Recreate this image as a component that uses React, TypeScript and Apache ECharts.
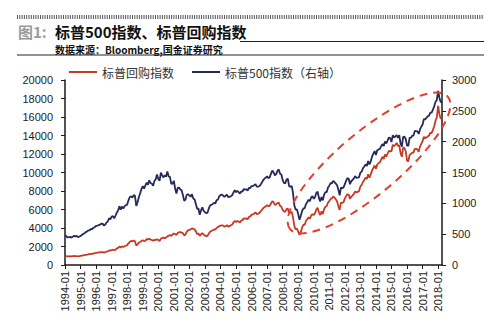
import React, { useEffect, useRef } from "react";
import * as echarts from "echarts";

const startYear = 1994;
const endYear = 2018;
const endMonth = 4;

// 标普500指数 (right axis), monthly from 1994-01
const sp500 = [
  482, 467, 446, 451, 457, 444, 458, 475, 463, 472, 454, 459,
  470, 487, 501, 515, 533, 544, 562, 562, 584, 582, 605, 616,
  636, 640, 646, 654, 669, 671, 640, 652, 687, 705, 757, 741,
  786, 791, 757, 801, 848, 885, 954, 899, 947, 915, 955, 970,
  980, 1049, 1102, 1112, 1091, 1134, 1121, 957, 1017, 1099, 1164, 1229,
  1280, 1238, 1286, 1335, 1302, 1373, 1329, 1320, 1283, 1363, 1389, 1469,
  1394, 1366, 1499, 1452, 1421, 1455, 1431, 1518, 1437, 1429, 1315, 1320,
  1366, 1240, 1160, 1249, 1256, 1224, 1211, 1134, 1041, 1060, 1139, 1148,
  1130, 1107, 1147, 1077, 1067, 990, 912, 916, 815, 886, 936, 880,
  856, 841, 848, 917, 964, 975, 990, 1008, 996, 1051, 1058, 1112,
  1131, 1145, 1126, 1107, 1121, 1141, 1102, 1104, 1115, 1130, 1174, 1212,
  1181, 1204, 1181, 1157, 1192, 1191, 1234, 1220, 1229, 1207, 1249, 1248,
  1280, 1281, 1295, 1311, 1270, 1270, 1277, 1304, 1336, 1378, 1401, 1418,
  1438, 1407, 1421, 1482, 1531, 1503, 1455, 1474, 1527, 1549, 1481, 1468,
  1379, 1331, 1323, 1386, 1400, 1280, 1267, 1283, 1166, 969, 896, 903,
  826, 735, 798, 873, 919, 919, 987, 1021, 1057, 1036, 1096, 1115,
  1074, 1104, 1169, 1187, 1089, 1031, 1102, 1049, 1141, 1183, 1181, 1258,
  1286, 1327, 1326, 1364, 1345, 1321, 1292, 1219, 1131, 1253, 1247, 1258,
  1312, 1366, 1408, 1398, 1310, 1362, 1379, 1407, 1441, 1412, 1416, 1426,
  1498, 1515, 1569, 1598, 1631, 1606, 1686, 1633, 1682, 1757, 1806, 1848,
  1783, 1859, 1872, 1884, 1924, 1960, 1931, 2003, 1972, 2018, 2068, 2059,
  1995, 2105, 2068, 2086, 2107, 2063, 2104, 1972, 1920, 2079, 2080, 2044,
  1940, 1932, 2060, 2065, 2097, 2099, 2174, 2171, 2168, 2126, 2199, 2239,
  2279, 2364, 2363, 2384, 2412, 2423, 2470, 2472, 2519, 2575, 2648, 2674,
  2824, 2714, 2641, 2648,
];

// 标普回购指数 (left axis), monthly from 1994-01
const buyback = [
  970, 960, 930, 940, 950, 930, 950, 980, 960, 970, 940, 950,
  980, 1010, 1040, 1070, 1100, 1120, 1160, 1170, 1210, 1200, 1250, 1270,
  1310, 1330, 1350, 1370, 1400, 1400, 1340, 1380, 1440, 1480, 1570, 1550,
  1620, 1650, 1590, 1660, 1780, 1850, 2000, 1900, 2010, 1950, 2030, 2080,
  2150, 2350, 2500, 2600, 2560, 2650, 2560, 2100, 2230, 2400, 2500, 2600,
  2680, 2580, 2620, 2800, 2760, 2850, 2750, 2700, 2620, 2720, 2700, 2780,
  2700, 2600, 2850, 2900, 2950, 2900, 2950, 3100, 3150, 3250, 3150, 3300,
  3400, 3350, 3250, 3450, 3550, 3550, 3500, 3450, 3200, 3300, 3600, 3750,
  3800, 3850, 3950, 3900, 3850, 3650, 3350, 3400, 3150, 3300, 3450, 3300,
  3200, 3120, 3150, 3400, 3600, 3680, 3750, 3850, 3820, 4000, 4100, 4200,
  4250, 4300, 4250, 4150, 4200, 4300, 4150, 4200, 4300, 4350, 4600, 4750,
  4650, 4750, 4700, 4600, 4800, 4850, 5050, 5000, 5050, 4950, 5200, 5250,
  5450, 5450, 5550, 5700, 5500, 5550, 5600, 5800, 5950, 6150, 6250, 6350,
  6450, 6350, 6400, 6650, 6900, 6800, 6500, 6550, 6700, 6750, 6400, 6300,
  5950, 5800, 5750, 6050, 6100, 5600, 5650, 5750, 5150, 4250, 3850, 3950,
  3600, 3250, 3550, 4050, 4350, 4350, 4750, 4950, 5150, 5000, 5350, 5500,
  5400, 5600, 6000, 6200, 5700, 5400, 5800, 5500, 6050, 6300, 6350, 6750,
  6900, 7150, 7200, 7400, 7300, 7100, 6900, 6350, 5950, 6750, 6700, 6800,
  7200, 7450, 7650, 7600, 7150, 7400, 7500, 7700, 7950, 7850, 7900, 8000,
  8500, 8650, 9000, 9200, 9450, 9300, 9800, 9450, 9800, 10200, 10500, 10750,
  10400, 10850, 11000, 11100, 11400, 11700, 11450, 11950, 11700, 12050, 12350, 12300,
  12300, 13000, 12850, 13000, 13200, 12850, 12950, 12100, 11700, 12700, 12650, 12300,
  11300, 11200, 11900, 12000, 12150, 12150, 12550, 12550, 12500, 12250, 12800, 13100,
  13400, 13850, 13700, 13800, 13900, 14000, 14300, 14250, 14600, 15000, 15600, 15950,
  17200, 16300, 15800, 16100,
];

const seriesNames = ["标普回购指数", "标普500指数（右轴）"];
const titleText = "标普500指数、标普回购指数";
const figText = "图1:";
const sourceText = "数据来源：Bloomberg,国金证券研究";

const months: string[] = [];
for (let y = startYear; y <= endYear; y++) {
  for (let m = 1; m <= 12; m++) {
    if (y === endYear && m > endMonth) break;
    months.push(`${y}-${m < 10 ? "0" + m : m}`);
  }
}

const axisColor = "#1a1a1a";
const labelFont = "Liberation Sans, Arial, sans-serif";
const cjkFont = "Noto Sans CJK SC, sans-serif";
const plain = (v: number) => String(v);

export default function App() {
  const ref = useRef<HTMLDivElement>(null);
  useEffect(() => {
    if (!ref.current) return;
    const chart = echarts.init(ref.current, null, { renderer: "svg" });
    chart.setOption({
      animation: false,
      backgroundColor: "#ffffff",
      grid: { left: 65, right: 53, top: 80, bottom: 65, containLabel: false },
      legend: {
        data: seriesNames,
        left: 64,
        top: 61,
        icon: "rect",
        itemWidth: 28,
        itemHeight: 2,
        itemGap: 18,
        textStyle: { fontSize: 12, color: "#333", fontFamily: cjkFont },
      },
      xAxis: {
        type: "category",
        data: months,
        boundaryGap: false,
        axisLine: { lineStyle: { color: axisColor, width: 1.5 } },
        axisTick: { interval: 11, length: 4, lineStyle: { color: axisColor } },
        axisLabel: {
          interval: 11,
          rotate: 90,
          fontSize: 11,
          color: "#222",
          fontFamily: labelFont,
          margin: 6,
        },
        splitLine: { show: false },
      },
      yAxis: [
        {
          type: "value",
          min: 0,
          max: 20000,
          interval: 2000,
          axisLine: { show: true, lineStyle: { color: axisColor, width: 1.5 } },
          axisTick: { show: true, length: 4, lineStyle: { color: axisColor } },
          axisLabel: { fontSize: 11, color: "#222", fontFamily: labelFont, margin: 12, formatter: plain },
          splitLine: { show: false },
        },
        {
          type: "value",
          min: 0,
          max: 3000,
          interval: 500,
          position: "right",
          axisLine: { show: true, lineStyle: { color: axisColor, width: 1.5 } },
          axisTick: { show: true, length: 4, lineStyle: { color: axisColor } },
          axisLabel: { fontSize: 11, color: "#222", fontFamily: labelFont, margin: 10, formatter: plain },
          splitLine: { show: false },
        },
      ],
      series: [
        {
          name: seriesNames[0],
          type: "line",
          yAxisIndex: 0,
          data: buyback,
          symbol: "none",
          lineStyle: { color: "#c43a25", width: 1.8 },
          itemStyle: { color: "#c43a25" },
          z: 3,
        },
        {
          name: seriesNames[1],
          type: "line",
          yAxisIndex: 1,
          data: sp500,
          symbol: "none",
          lineStyle: { color: "#262a59", width: 1.8 },
          itemStyle: { color: "#262a59" },
          z: 2,
        },
      ],
      graphic: [
        {
          type: "line",
          shape: { x1: 17, y1: 17, x2: 484, y2: 17 },
          style: { stroke: "#555", lineWidth: 4, lineDash: [1, 1.3] },
        },
        {
          type: "text",
          x: 18,
          y: 31,
          style: {
            text: figText,
            font: `bold 15px ${cjkFont}`,
            lineHeight: 16,
            fill: "#9a9a9a",
            verticalAlign: "middle",
          },
        },
        {
          type: "text",
          x: 55,
          y: 31,
          style: {
            text: titleText,
            font: `bold 15px ${cjkFont}`,
            lineHeight: 16,
            fill: "#111",
            verticalAlign: "middle",
          },
        },
        {
          type: "line",
          shape: { x1: 240, y1: 41.5, x2: 484, y2: 41.5 },
          style: { stroke: "#222", lineWidth: 1 },
        },
        {
          type: "text",
          x: 55,
          y: 49.5,
          style: {
            text: sourceText,
            font: `bold 10px ${cjkFont}`,
            lineHeight: 11,
            fill: "#111",
            verticalAlign: "middle",
          },
        },
        {
          type: "line",
          shape: { x1: 17, y1: 55, x2: 484, y2: 55 },
          style: { stroke: "#222", lineWidth: 1 },
        },
        {
          type: "ellipse",
          x: 369,
          y: 163,
          rotation: (40 * Math.PI) / 180,
          shape: { cx: 0, cy: 0, rx: 103, ry: 31 },
          style: { fill: "none", stroke: "#e0402c", lineWidth: 2, lineDash: [8, 6] },
          z: 100,
        },
      ],
    });
    return () => chart.dispose();
  }, []);
  return (
    <div
      ref={ref}
      style={{ position: "fixed", left: 0, top: 0, width: 495, height: 330, background: "#fff" }}
    />
  );
}
